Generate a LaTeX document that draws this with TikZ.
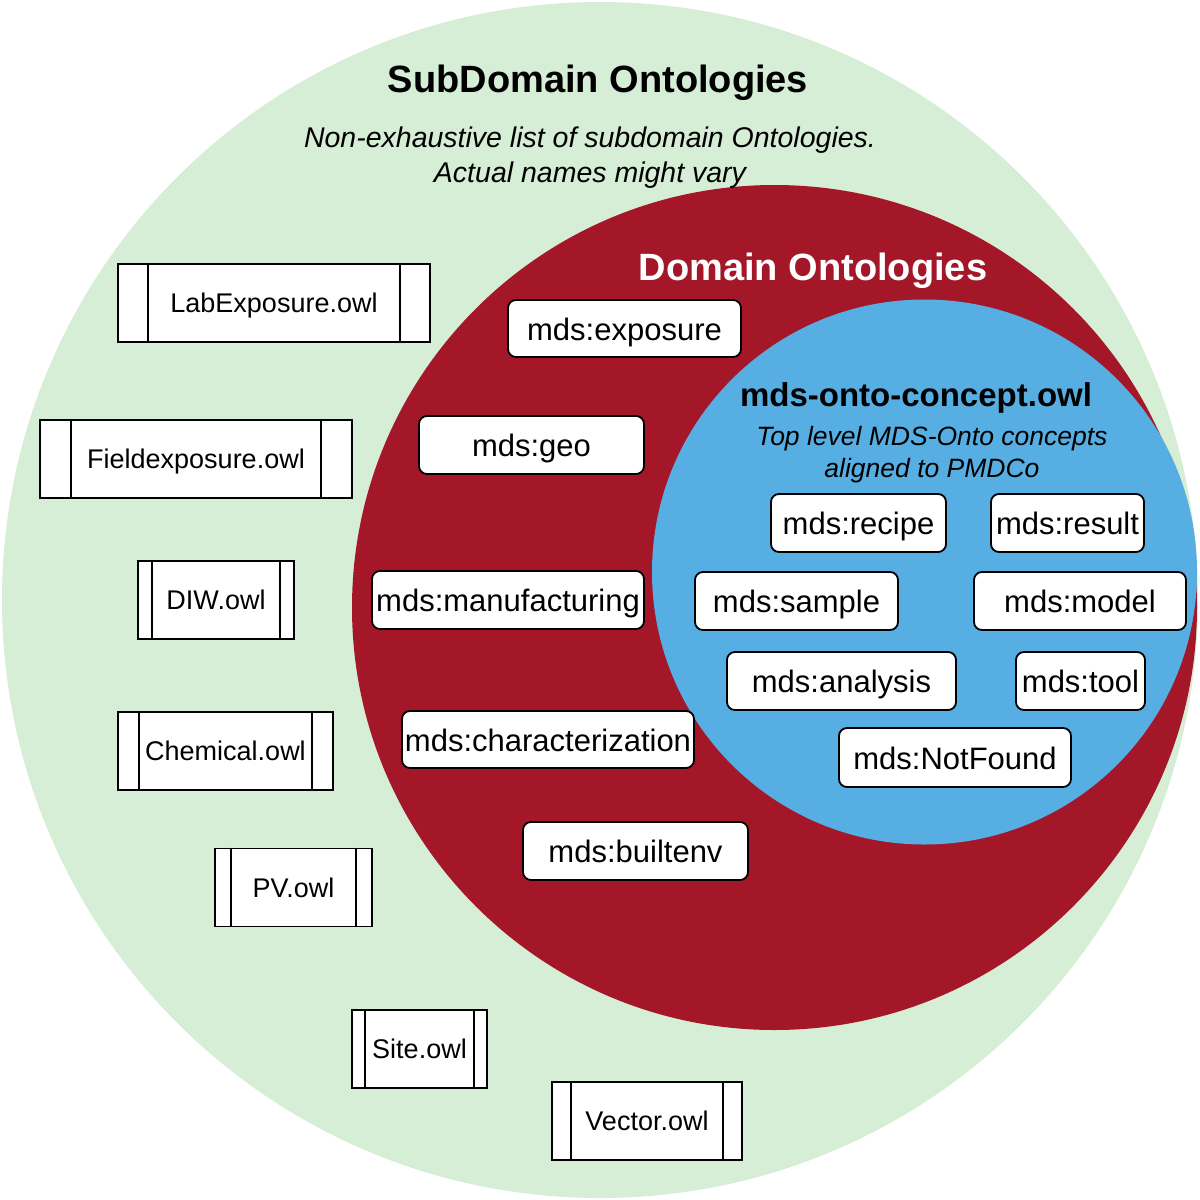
\documentclass[tikz,border=0pt]{standalone}
\usepackage{fontspec}
\setmainfont{Liberation Sans}
\definecolor{subgreen}{HTML}{D6EDD6}
\definecolor{domred}{HTML}{A31729}
\definecolor{topblue}{HTML}{56AEE3}
\tikzset{
  owl/.style={draw=black, line width=1.8pt, fill=white, inner sep=0pt,
    font=\fontsize{27}{32}\selectfont, text height=22pt, text depth=3pt},
  owlline/.style={draw=black, line width=1.8pt},
  mdsbox/.style={draw=black, line width=1.8pt, fill=white, rounded corners=8pt, inner sep=0pt,
    font=\fontsize{31}{37}\selectfont, text height=26pt, text depth=3pt},
  bigtitle/.style={font=\bfseries\fontsize{38}{45}\selectfont, inner sep=0pt},
  subtitle/.style={font=\itshape\fontsize{28.5}{35}\selectfont, align=center, inner sep=0pt},
}
\newcommand{\owlbox}[7]{%
  \node[owl, minimum width=#4, minimum height=#5] (#1) at (#2,#3) {#7};
  \draw[owlline] ([xshift=#6]#1.north west) -- ([xshift=#6]#1.south west);
  \draw[owlline] ([xshift=-#6]#1.north east) -- ([xshift=-#6]#1.south east);
}
\newcommand{\mdsnode}[6]{%
  \node[mdsbox, minimum width=#4, minimum height=#5] (#1) at (#2,#3) {#6};
}
\begin{document}
\begin{tikzpicture}[x=1pt,y=-1pt]
\useasboundingbox (0,0) rectangle (1200,1200);
% circles
\fill[subgreen] (600,600) circle[radius=598];
\fill[domred] (774.5,607.5) circle[radius=422.5];
\fill[topblue] (924.5,572) circle[radius=272.5];
% titles
\node[bigtitle] (subtitle1) at (598,83) {SubDomain Ontologies};
\node[subtitle, text height=21pt, text depth=6pt] (subnote1) at (590,140) {Non-exhaustive list of subdomain Ontologies.};
\node[subtitle, text height=21pt, text depth=6pt] (subnote2) at (590,175) {Actual names might vary};
\node[bigtitle, text=white] (domtitle) at (813,271) {Domain Ontologies};
\node[font=\bfseries\fontsize{33}{40}\selectfont, inner sep=0pt] (toptitle) at (916,398) {mds-onto-concept.owl};
\node[font=\itshape\fontsize{26.5}{32}\selectfont, inner sep=0pt, text height=19pt, text depth=6pt] (topnote1) at (932,439) {Top level MDS-Onto concepts};
\node[font=\itshape\fontsize{26.5}{32}\selectfont, inner sep=0pt, text height=19pt, text depth=6pt] (topnote2) at (932,471) {aligned to PMDCo};
% subdomain boxes
\owlbox{lab}{274}{303}{312}{78}{31}{LabExposure.owl}
\owlbox{field}{196}{459}{312}{78}{32}{Fieldexposure.owl}
\owlbox{diw}{216}{600}{156}{78}{15}{DIW.owl}
\owlbox{chem}{225.5}{751}{215}{78}{22}{Chemical.owl}
\owlbox{pv}{293.5}{887.5}{157}{78}{17}{PV.owl}
\owlbox{site}{419.5}{1049}{135}{78}{14}{Site.owl}
\owlbox{vector}{647}{1121}{190}{78}{20}{Vector.owl}
% domain boxes
\mdsnode{exposure}{624.5}{328.5}{233}{57}{mds:exposure}
\mdsnode{geo}{531.5}{445}{225}{58}{mds:geo}
\mdsnode{manuf}{508}{600}{272}{58}{mds:manufacturing}
\mdsnode{charac}{548}{739.5}{292}{57}{mds:characterization}
\mdsnode{builtenv}{635.5}{851}{225}{58}{mds:builtenv}
% top-level boxes
\mdsnode{recipe}{858.5}{523}{175}{58}{mds:recipe}
\mdsnode{result}{1067.5}{523}{153}{58}{mds:result}
\mdsnode{sample}{796.5}{601}{203}{58}{mds:sample}
\mdsnode{model}{1080}{601}{212}{58}{mds:model}
\mdsnode{analysis}{841.5}{681}{229}{58}{mds:analysis}
\mdsnode{tool}{1080.5}{681}{129}{58}{mds:tool}
\mdsnode{notfound}{955}{757.5}{232}{59}{mds:NotFound}
\end{tikzpicture}
\end{document}
